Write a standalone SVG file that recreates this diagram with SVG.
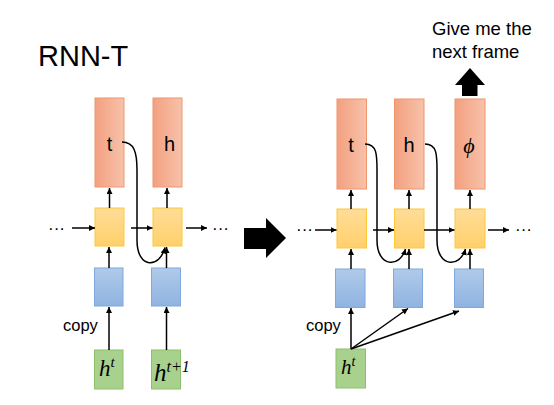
<svg xmlns="http://www.w3.org/2000/svg" width="554" height="405" viewBox="0 0 554 405">
<defs>
<linearGradient id="gRed" x1="0" y1="0" x2="1" y2="0">
<stop offset="0" stop-color="#F3A080"/><stop offset="1" stop-color="#F7C2AA"/>
</linearGradient>
<linearGradient id="gYel" x1="0" y1="0" x2="0" y2="1">
<stop offset="0" stop-color="#FFDD98"/><stop offset="1" stop-color="#FFD06C"/>
</linearGradient>
<linearGradient id="gBlue" x1="0" y1="0" x2="0" y2="1">
<stop offset="0" stop-color="#B0CAE9"/><stop offset="1" stop-color="#8FB3E1"/>
</linearGradient>
<marker id="ah" markerUnits="userSpaceOnUse" markerWidth="7" markerHeight="7" refX="6" refY="3" orient="auto">
<path d="M0,0 L6,3 L0,6 z" fill="#000"/>
</marker>
<style>
.red{fill:url(#gRed);stroke:#F0956C;stroke-width:1}
.yel{fill:url(#gYel);stroke:#FFC83A;stroke-width:1}
.blue{fill:url(#gBlue);stroke:#7FA9DC;stroke-width:1}
.green{fill:#A9D18E;stroke:#8CC06C;stroke-width:1}
.lbl{font-family:"Liberation Sans",Arial,sans-serif;fill:#000}
.math{font-family:"Liberation Serif","DejaVu Serif",serif;font-style:italic;fill:#000}
.c line,.c path{stroke:#000;stroke-width:1.5;fill:none;marker-end:url(#ah)}
</style>
</defs>
<rect width="554" height="405" fill="#fff"/>
<text class="lbl" x="38" y="66" font-size="29">RNN-T</text>

<!-- left diagram nodes -->
<g id="L-red1"><rect class="red" x="95" y="98" width="29" height="89"/><text class="lbl" x="109.5" y="151" font-size="20" text-anchor="middle">t</text></g>
<g id="L-red2"><rect class="red" x="153" y="98" width="29" height="89"/><text class="lbl" x="169.5" y="151" font-size="20" text-anchor="middle">h</text></g>
<g id="L-yel1"><rect class="yel" x="95" y="208" width="29" height="38"/></g>
<g id="L-yel2"><rect class="yel" x="153" y="208" width="29" height="38"/></g>
<g id="L-blue1"><rect class="blue" x="94.5" y="268" width="28.5" height="38"/></g>
<g id="L-blue2"><rect class="blue" x="151.5" y="268" width="29" height="38"/></g>
<g id="L-green1"><rect class="green" x="94.5" y="350" width="28.5" height="39"/><text class="math" x="99" y="376" font-size="23">h<tspan font-size="15" dy="-9">t</tspan></text></g>
<g id="L-green2"><rect class="green" x="151.5" y="350" width="29" height="39"/><text class="math" x="154" y="381" font-size="25">h<tspan font-size="16" dy="-9">t+1</tspan></text></g>
<text class="lbl" x="63" y="331" font-size="16.5">copy</text>
<text class="lbl" x="48" y="234" font-size="17">···</text>
<text class="lbl" x="212" y="234" font-size="17">···</text>

<!-- right diagram nodes -->
<g id="R-red1"><rect class="red" x="337" y="99" width="29.5" height="90"/><text class="lbl" x="351" y="152" font-size="20" text-anchor="middle">t</text></g>
<g id="R-red2"><rect class="red" x="394.5" y="99" width="29.5" height="90"/><text class="lbl" x="409" y="152" font-size="20" text-anchor="middle">h</text></g>
<g id="R-red3"><rect class="red" x="455" y="99" width="30" height="90"/><text class="math" x="469" y="153" font-size="22" text-anchor="middle">ϕ</text></g>
<g id="R-yel1"><rect class="yel" x="337" y="209" width="29.5" height="39"/></g>
<g id="R-yel2"><rect class="yel" x="394.5" y="209" width="29.5" height="39"/></g>
<g id="R-yel3"><rect class="yel" x="455" y="209" width="30" height="39"/></g>
<g id="R-blue1"><rect class="blue" x="335.5" y="269" width="29.5" height="38.5"/></g>
<g id="R-blue2"><rect class="blue" x="393.5" y="269" width="29" height="38.5"/></g>
<g id="R-blue3"><rect class="blue" x="454.5" y="269" width="29" height="38.5"/></g>
<g id="R-green1"><rect class="green" x="336" y="349" width="29.5" height="39"/><text class="math" x="341" y="374" font-size="21">h<tspan font-size="14" dy="-8">t</tspan></text></g>
<text class="lbl" x="306" y="331" font-size="16.5">copy</text>
<text class="lbl" x="296" y="235" font-size="17">···</text>
<text class="lbl" x="515" y="235" font-size="17">···</text>
<text class="lbl" x="432" y="35" font-size="18.5">Give me the</text>
<text class="lbl" x="432" y="58" font-size="18.5">next frame</text>

<!-- big arrows -->
<polygon points="244,228 266,228 266,218 286,238 266,258 266,249 244,249" fill="#000"/>
<polygon points="462,96 462,85 455,85 470,68 485,85 477.5,85 477.5,96" fill="#000"/>

<!-- connectors -->
<g class="c" id="connectors">
<line x1="109.5" y1="208" x2="109.5" y2="188"/>
<line x1="167" y1="208" x2="167" y2="188"/>
<line x1="109" y1="268" x2="109" y2="247"/>
<line x1="166.5" y1="268" x2="166.5" y2="247"/>
<line x1="109" y1="350" x2="109" y2="307"/>
<line x1="166.5" y1="350" x2="166.5" y2="307"/>
<line x1="72" y1="228" x2="95" y2="228"/>
<line x1="131" y1="228" x2="152.5" y2="228"/>
<line x1="186" y1="228" x2="207" y2="228"/>
<path d="M122,142 C134,142 137,152 137,170 L137,240 C137,270 160,268 165,247.5"/>

<line x1="351" y1="209" x2="351" y2="190"/>
<line x1="409" y1="209" x2="409" y2="190"/>
<line x1="470" y1="209" x2="470" y2="190"/>
<line x1="351" y1="269" x2="351" y2="249"/>
<line x1="409" y1="269" x2="409" y2="249"/>
<line x1="470" y1="269" x2="470" y2="249"/>
<line x1="351" y1="349" x2="351" y2="308"/>
<line x1="351" y1="349" x2="408" y2="308.5"/>
<line x1="351" y1="349" x2="459" y2="311"/>
<line x1="315" y1="230" x2="336.5" y2="230"/>
<line x1="373" y1="230" x2="394" y2="230"/>
<line x1="424" y1="230" x2="454.5" y2="230"/>
<line x1="488" y1="230" x2="509" y2="230"/>
<path d="M365,144 C377,144 377,155 377,170 L377,240 C377,268 400,268 405.5,249"/>
<path d="M425,144 C437,144 437,155 437,170 L437,240 C437,268 460,268 465.5,249"/>
</g>
</svg>
